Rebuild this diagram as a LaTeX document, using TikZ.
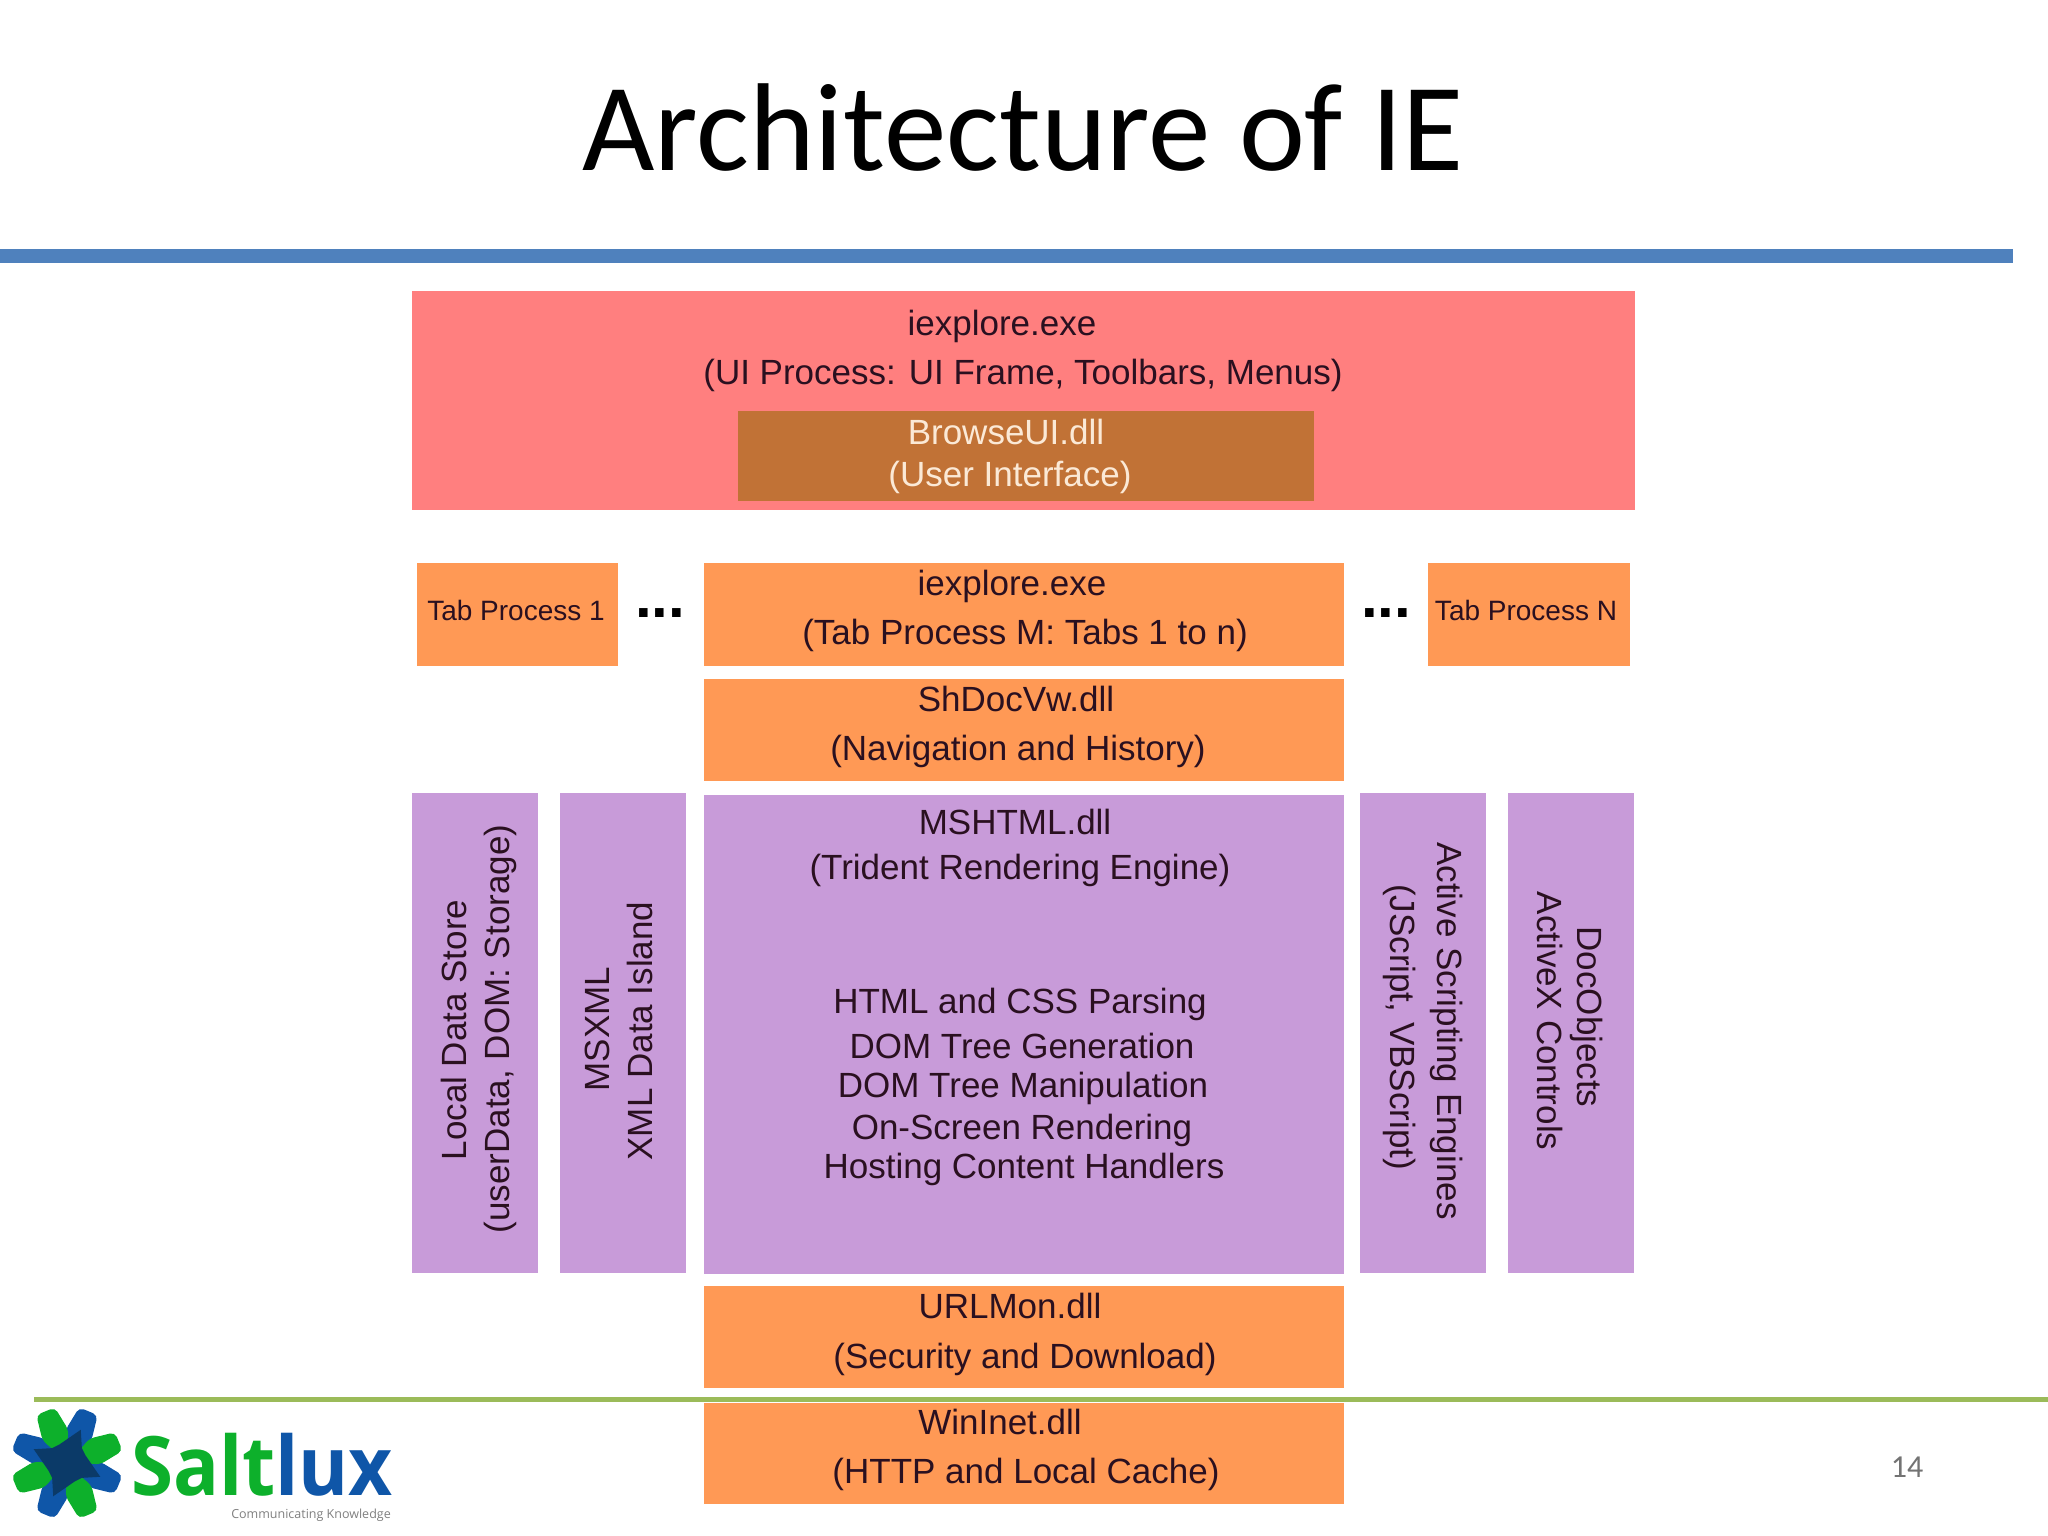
\documentclass[tikz,border=0pt]{standalone}
\usepackage{fontspec}
\setmainfont{Liberation Sans}
\newfontfamily\titlefont{Carlito}
\newfontfamily\logofont{Open Sans}
\definecolor{redfill}{HTML}{FF7F7F}
\definecolor{brownfill}{HTML}{C17236}
\definecolor{orangefill}{HTML}{FF9955}
\definecolor{purplefill}{HTML}{C89BD9}
\definecolor{bluebar}{HTML}{4F81BD}
\definecolor{greenbar}{HTML}{9BBB59}
\definecolor{inktext}{HTML}{2A1020}
\definecolor{creamtext}{HTML}{FBE9D6}
\definecolor{logogreen}{HTML}{0DB02B}
\definecolor{logoblue}{HTML}{0F56A8}
\definecolor{logodark}{HTML}{0B3A68}
\tikzset{
  panel/.style={inner sep=0pt,outer sep=0pt,draw=none},
  redbox/.style={panel,fill=redfill},
  brownbox/.style={panel,fill=brownfill},
  orangebox/.style={panel,fill=orangefill},
  purplebox/.style={panel,fill=purplefill},
  lbl/.style={anchor=base,inner sep=0pt,outer sep=0pt,text=inktext,font=\fontsize{35}{40}\selectfont},
  lblsmall/.style={lbl,font=\fontsize{28}{33}\selectfont},
  lblcream/.style={lbl,text=creamtext},
  lblup/.style={lbl,rotate=90},
  lbldown/.style={lbl,rotate=-90},
  dotsl/.style={lbl,text=black,font=\fontsize{60}{60}\selectfont\bfseries},
  petal/.style={rounded corners=5pt}
}
\newcommand{\boxn}[6]{\node[#2,minimum width={(#5-#3)*1pt},minimum height={(#6-#4)*1pt}] (#1) at ({(#3+#5)/2},{(#4+#6)/2}) {};}
\begin{document}
\begin{tikzpicture}[x=1pt,y=-1pt]
\useasboundingbox (0,0) rectangle (2048,1536);
\fill[white] (0,0) rectangle (2048,1536);
% title and rules
\node[lbl,text=black,font=\fontsize{125}{130}\selectfont\titlefont] (title) at (1023,170) {Architecture of IE};
\fill[bluebar] (0,249) rectangle (2013,263);
% boxes
\boxn{ui}{redbox}{412}{291}{1635}{510}
\boxn{browse}{brownbox}{738}{411}{1314}{501}
\boxn{tabone}{orangebox}{417}{563}{618}{666}
\boxn{tabm}{orangebox}{704}{563}{1344}{666}
\boxn{tabn}{orangebox}{1428}{563}{1630}{666}
\boxn{shdoc}{orangebox}{704}{679}{1344}{781}
\boxn{local}{purplebox}{412}{793}{538}{1273}
\boxn{msxml}{purplebox}{560}{793}{686}{1273}
\boxn{mshtml}{purplebox}{704}{795}{1344}{1274}
\boxn{active}{purplebox}{1360}{793}{1486}{1273}
\boxn{docobj}{purplebox}{1508}{793}{1634}{1273}
\boxn{urlmon}{orangebox}{704}{1286}{1344}{1388}
\boxn{wininet}{orangebox}{704}{1403}{1344}{1504}
\fill[greenbar] (34,1397) rectangle (2048,1402);
% labels
\node[lbl] (t1) at (1002,335) {iexplore.exe};
\node[lbl] (t2) at (1023,384) {(UI Process: UI Frame, Toolbars, Menus)};
\node[lblcream] (t3) at (1006,444) {BrowseUI.dll};
\node[lblcream] (t4) at (1010,486) {(User Interface)};
\node[lblsmall] (t5) at (516,620) {Tab Process 1};
\node[lblsmall] (t6) at (1526,620) {Tab Process N};
\node[dotsl] (d1) at (660,617) {...};
\node[dotsl] (d2) at (1386,617) {...};
\node[lbl] (t7) at (1012,595) {iexplore.exe};
\node[lbl] (t8) at (1025,644) {(Tab Process M: Tabs 1 to n)};
\node[lbl] (t9) at (1016,711) {ShDocVw.dll};
\node[lbl] (t10) at (1018,760) {(Navigation and History)};
\node[lbl] (t11) at (1015,834) {MSHTML.dll};
\node[lbl] (t12) at (1020,879) {(Trident Rendering Engine)};
\node[lbl] (t13) at (1020,1013) {HTML and CSS Parsing};
\node[lbl] (t14) at (1022,1058) {DOM Tree Generation};
\node[lbl] (t15) at (1023,1097) {DOM Tree Manipulation};
\node[lbl] (t16) at (1022,1139) {On-Screen Rendering};
\node[lbl] (t17) at (1024,1178) {Hosting Content Handlers};
\node[lbl] (t18) at (1010,1318) {URLMon.dll};
\node[lbl] (t19) at (1025,1368) {(Security and Download)};
\node[lbl] (t20) at (1000,1434) {WinInet.dll};
\node[lbl] (t21) at (1026,1483) {(HTTP and Local Cache)};
\node[lblup] (t22) at (466,1030) {Local Data Store};
\node[lblup] (t23) at (509,1029) {(userData, DOM: Storage)};
\node[lblup] (t24) at (609,1029) {MSXML};
\node[lblup] (t25) at (652,1031) {XML Data Island};
\node[lbldown] (t26) at (1437,1031) {Active Scripting Engines};
\node[lbldown] (t27) at (1390,1027) {(JScript, VBScript)};
\node[lbldown] (t28) at (1577,1017) {DocObjects};
\node[lbldown] (t29) at (1537,1021) {ActiveX Controls};
\node[lbl,text=black!55,font=\fontsize{32}{36}\selectfont\titlefont] (page) at (1907,1477) {14};
% logo
\begin{scope}[shift={(67,1463)},x=1pt,y=1pt]
  \foreach \a in {67.5,-22.5,-112.5,157.5}
    \fill[logoblue,petal,rotate=\a] (3,0) -- (30,-14) -- (56,-10) -- (56,10) -- (30,14) -- cycle;
  \foreach \a in {112.5,22.5,-67.5,-157.5}
    \fill[logogreen,petal,rotate=\a] (3,0) -- (30,-14) -- (56,-10) -- (56,10) -- (30,14) -- cycle;
  \fill[logodark] (67.5:36) -- (45:21) -- (22.5:20) -- (-22.5:36) -- (-45:21) -- (-67.5:20) -- (-112.5:36) -- (-135:21) -- (-157.5:20) -- (157.5:36) -- (135:21) -- (112.5:20) -- cycle;
\end{scope}
\node[lbl,anchor=base west,xscale=0.93,font=\fontsize{82}{86}\selectfont\logofont\bfseries] (logo) at (131,1495) {\textcolor{logogreen}{Salt}\textcolor{logoblue}{lux}};
\node[lbl,text=black!50,font=\fontsize{12.5}{14}\selectfont\logofont] (slogan) at (311,1518) {Communicating Knowledge};
\end{tikzpicture}
\end{document}
